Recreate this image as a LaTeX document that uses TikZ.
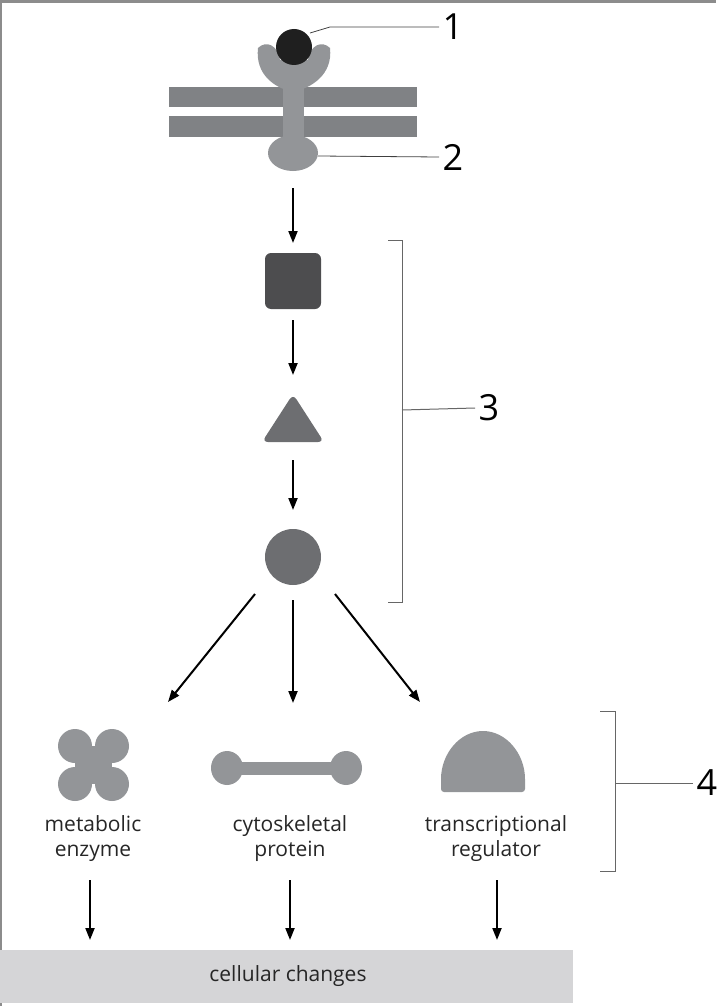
\documentclass[tikz,border=0pt]{standalone}
\usepackage{fontspec}
\setmainfont{Open Sans}
\usetikzlibrary{arrows.meta}
\definecolor{mem}{HTML}{808285}
\definecolor{prot}{HTML}{939598}
\definecolor{dk}{HTML}{4D4D4F}
\definecolor{mid}{HTML}{6D6E71}
\definecolor{boxc}{HTML}{D5D5D7}
\begin{document}
\begin{tikzpicture}[x=1pt,y=-1pt,
  arr/.style={-{Triangle[length=12pt,width=9pt]},line width=2pt},
  lead/.style={draw=black!75,line width=0.8pt},
  brk/.style={draw=black!60,line width=1pt},
  num/.style={font=\fontsize{36}{36}\selectfont},
  lab/.style={font=\fontsize{21}{25}\selectfont,align=center,text=black!85}]
\useasboundingbox (0,0) rectangle (716,1006);
\fill[black!45] (0,0) rectangle (716,3);
\fill[black!45] (0,0) rectangle (2,1006);
% membrane
\fill[mem] (169,87) rectangle (417,107);
\fill[mem] (169,116) rectangle (417,137);
% receptor
\fill[prot] (283,60) rectangle (304,150);
\fill[prot] (258,48) .. controls (255,75) and (275,88) .. (293,92) .. controls (311,88) and (333,75) .. (330,48)
  .. controls (322,40) and (310,45) .. (308,60) -- (280,60) .. controls (278,45) and (266,40) .. (258,48) -- cycle;
\fill[prot] (293,153) ellipse (25 and 18);
\node[circle,fill=black!88,minimum size=36pt,inner sep=0] (lig) at (294,47) {};
\coordinate (c1) at (310,33);
\coordinate (c2) at (318,156);
\node[num] (n1) at (453,27) {1};
\node[num] (n2) at (453,157) {2};
\draw[lead] (c1) -- (330,27) -- (n1.west);
\draw[lead] (c2) -- (n2.west);
% cascade
\node[fill=dk,rounded corners=6pt,minimum size=56pt,inner sep=0] (sq) at (293,281) {};
\fill[mid,rounded corners=6pt] (262,442) -- (293,394) -- (324,442) -- cycle;
\node[circle,fill=mid,minimum size=56pt,inner sep=0] (ci) at (293,557) {};
\coordinate (a0) at (293,188); \coordinate (a0e) at (293,243);
\coordinate (a1) at (293,320); \coordinate (a1e) at (293,375);
\coordinate (a2) at (293,460); \coordinate (a2e) at (293,510);
\draw[arr] (a0) -- (a0e);
\draw[arr] (a1) -- (a1e);
\draw[arr] (a2) -- (a2e);
% bracket 3
\node[num] (n3) at (489,408) {3};
\draw[brk] (388,240) -- (402,240) -- (402,602) -- (388,602);
\draw[brk] (402,410) -- (n3.west);
% fan arrows
\coordinate (s1) at (255,594); \coordinate (s2) at (293,600); \coordinate (s3) at (335,594);
\coordinate (t1) at (168,702); \coordinate (t2) at (293,703); \coordinate (t3) at (420,702);
\draw[arr] (s1) -- (t1);
\draw[arr] (s2) -- (t2);
\draw[arr] (s3) -- (t3);
% enzyme
\fill[prot] (75,746) circle (17) (112,746) circle (17) (75,784) circle (17) (112,784) circle (17);
\fill[prot] (75,750) rectangle (112,780);
\fill[prot] (80,746) rectangle (107,784);
% dumbbell
\fill[prot] (227,768) ellipse (16 and 17) (346,768) ellipse (16 and 17);
\fill[prot] (227,762) rectangle (346,775);
% dome
\fill[prot,rounded corners=3pt] (441,792) -- (441,782) arc[start angle=180,end angle=360,x radius=42,y radius=51] -- (525,792) -- cycle;
% labels
\node[lab] (e) at (93,839) {metabolic\\enzyme};
\node[lab] (p) at (290,839) {cytoskeletal\\protein};
\node[lab] (t) at (496,839) {transcriptional\\regulator};
% bracket 4
\node[num] (n4) at (707,783) {4};
\draw[brk] (600,711) -- (615,711) -- (615,871) -- (600,871);
\draw[brk] (615,783) -- (n4.west);
% box
\node[fill=boxc,minimum width=573pt,minimum height=53pt,inner sep=0,anchor=north west] (box) at (0,950) {};
\node[lab] at (288,976) {cellular changes};
\coordinate (b1) at (90,880); \coordinate (b2) at (290,880); \coordinate (b3) at (497,880);
\draw[arr] (b1) -- (90,940);
\draw[arr] (b2) -- (290,940);
\draw[arr] (b3) -- (497,940);
\end{tikzpicture}
\end{document}
